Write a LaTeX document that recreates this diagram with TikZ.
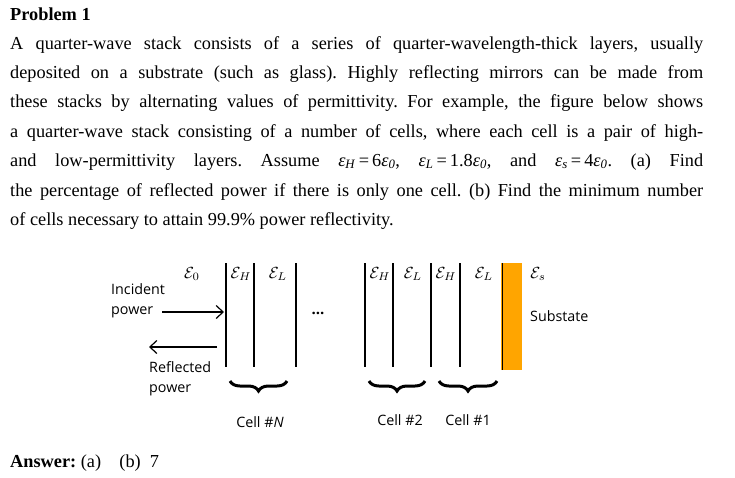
\documentclass[tikz,border=0pt]{standalone}
\usepackage{fontspec}
\setmainfont{Liberation Serif}
\newfontfamily\figfont{Open Sans}
\usetikzlibrary{decorations.pathreplacing,arrows.meta}
\definecolor{subc}{RGB}{255,165,0}
\frenchspacing
\newcommand{\ep}[1]{\textit{ε}\textsubscript{\textit{#1}}}
\newcommand{\eps}[1]{\resizebox{!}{11pt}{$\mathcal{E}_{#1}$}}
\tikzset{
 txt/.style={anchor=base west,inner sep=0pt,font=\fontsize{18.3}{20}\selectfont},
 lay/.style={line width=1.3pt},
 lab/.style={inner sep=0pt},
 fl/.style={font=\figfont\fontsize{14.3}{20}\selectfont,inner sep=0pt,align=left},
 arr/.style={-{Straight Barb[length=7pt,width=13pt]},line width=1.2pt},
 br/.style={decorate,decoration={brace,mirror,amplitude=10pt},line width=3pt},
}
\begin{document}
\begin{tikzpicture}[x=1pt,y=-1pt]
\useasboundingbox (0,0) rectangle (735,477);
\def\W{693pt}
\node[txt] (t0) at (10,20) {\textbf{Problem 1}};
\node[txt] (t1) at (10,49) {\makebox[\W][s]{A quarter-wave stack consists of a series of quarter-wavelength-thick layers, usually}};
\node[txt] (t2) at (10,78) {\makebox[\W][s]{deposited on a substrate (such as glass). Highly reflecting mirrors can be made from}};
\node[txt] (t3) at (10,107) {\makebox[\W][s]{these stacks by alternating values of permittivity. For example, the figure below shows}};
\node[txt] (t4) at (10,137) {\makebox[\W][s]{a quarter-wave stack consisting of a number of cells, where each cell is a pair of high-}};
\node[txt] (t5) at (10,166) {\makebox[\W][s]{and low-permittivity layers. Assume \ep{H}\,=\,6\ep{0}, \ep{L}\,=\,1.8\ep{0}, and \ep{s}\,=\,4\ep{0}. (a) Find}};
\node[txt] (t6) at (10,196) {\makebox[\W][s]{the percentage of reflected power if there is only one cell. (b) Find the minimum number}};
\node[txt] (t7) at (10,225) {of cells necessary to attain 99.9\% power reflectivity.};
\node[txt] (ans) at (10,467) {\textbf{Answer:} (a)\quad (b)\ \ 7};
% layers
\foreach \x/\n in {226/a,254/b,296/c,365/d,393/e,431/f,460/g}{
 \coordinate (\n1) at (\x,263); \coordinate (\n2) at (\x,367);
 \draw[lay] (\n1) -- (\n2);}
\fill[subc] (501,263) rectangle (522,370);
\coordinate (s1) at (502,263); \coordinate (s2) at (502,370);
\draw[line width=1pt] (s1)--(s2);
\node[lab] (e0) at (192,274) {\eps{0}};
\node[lab] (h1) at (241,274) {\eps{H}};
\node[lab] (l1) at (278,274) {\eps{L}};
\node[lab] (h2) at (380,274) {\eps{H}};
\node[lab] (l2) at (413,274) {\eps{L}};
\node[lab] (h3) at (446,274) {\eps{H}};
\node[lab] (l3) at (484,274) {\eps{L}};
\node[lab] (es) at (538,274) {\eps{s}};
\node[fl,anchor=west] (inc) at (111,301) {Incident\\power};
\coordinate (ia) at (162,312); \coordinate (ib) at (224,312);
\draw[arr] (ia) -- (ib);
\coordinate (ra) at (217,347); \coordinate (rb) at (149,347);
\draw[arr] (ra) -- (rb);
\node[fl,anchor=west] (ref) at (149,379) {Reflected\\power};
\node[fl] (dots) at (318,313) {\bfseries\fontsize{15}{15}\selectfont ...};
\node[fl,anchor=west] (sub) at (530,316) {Substate};
\coordinate (b1) at (230,381); \coordinate (b2) at (287,381);
\coordinate (b3) at (369,381); \coordinate (b4) at (425,381);
\coordinate (b5) at (439,381); \coordinate (b6) at (497,381);
\draw[br] (b1) -- (b2);
\draw[br] (b3) -- (b4);
\draw[br] (b5) -- (b6);
\node[fl] (cn) at (260,422) {Cell \#\textit{N}};
\node[fl] (c2) at (400,420) {Cell \#2};
\node[fl] (c1) at (468,420) {Cell \#1};
\end{tikzpicture}
\end{document}
